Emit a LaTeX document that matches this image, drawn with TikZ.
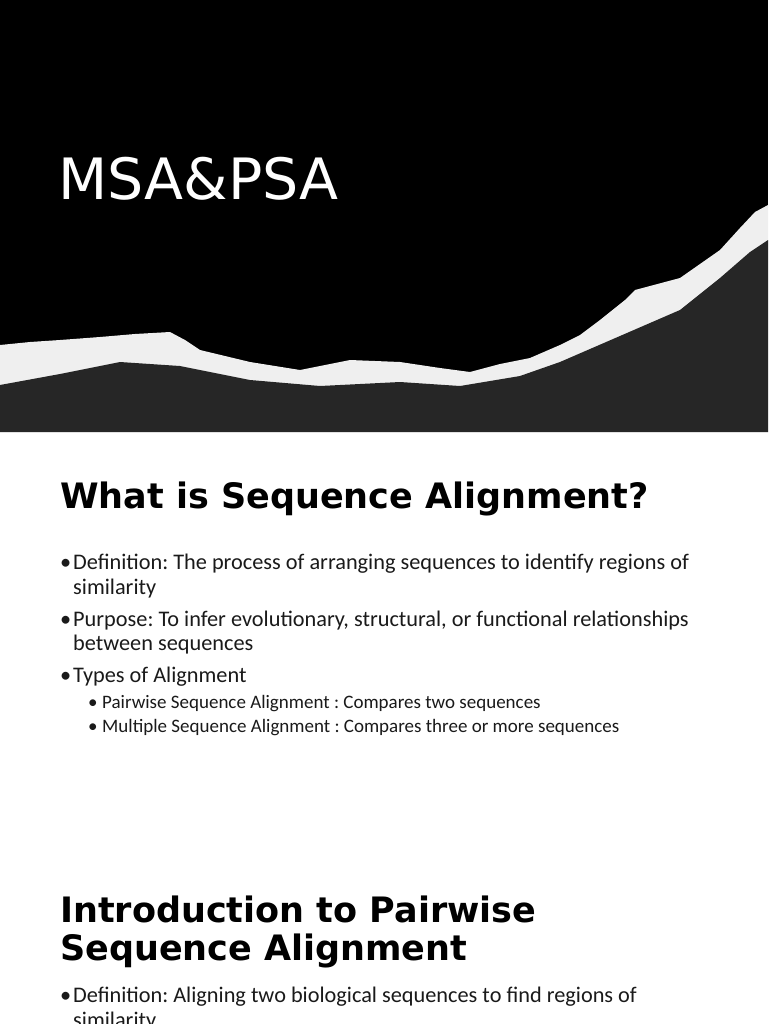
\documentclass[tikz,border=0pt]{standalone}
\usepackage{fontspec}
\setmainfont{Carlito}
\newfontfamily\headfont{DejaVu Sans}
\definecolor{strip}{HTML}{EFEFEF}
\definecolor{darkg}{HTML}{262626}
\definecolor{txt}{HTML}{1A1A1A}
\begin{document}
\frenchspacing
\begin{tikzpicture}[x=1pt,y=-1pt,
  body/.style={anchor=base west,inner sep=0pt,font=\frenchspacing\fontsize{22.3}{24}\selectfont,text=txt},
  sub/.style={anchor=base west,inner sep=0pt,font=\frenchspacing\fontsize{19}{19}\selectfont,text=txt},
  head/.style={anchor=base west,inner sep=0pt,font=\headfont\bfseries\fontsize{35}{38}\selectfont,text=black}]
\useasboundingbox (0,0) rectangle (768,1024);
\fill[white] (0,0) rectangle (768,1024);
% top slide
\fill[black] (0,0) rectangle (768,432);
\fill[strip] (0,345) -- (30,342) -- (60,340) -- (100,337) -- (135,334) -- (170,332) -- (185,340) -- (200,350) -- (250,362) -- (300,370) -- (350,360) -- (400,362) -- (440,368) -- (470,372) -- (500,364) -- (530,358) -- (560,345) -- (580,335) -- (600,320) -- (625,300) -- (635,290) -- (680,278) -- (720,250) -- (740,228) -- (755,212) -- (768,205) -- (768,432) -- (0,432) -- cycle;
\fill[darkg] (0,385) -- (60,374) -- (120,362) -- (180,366) -- (250,380) -- (320,386) -- (400,382) -- (460,386) -- (520,376) -- (560,362) -- (620,336) -- (680,310) -- (720,278) -- (750,252) -- (768,240) -- (768,432) -- (0,432) -- cycle;
\node[anchor=base west,inner sep=0pt,text=white,font=\headfont\fontsize{57}{64}\selectfont] (title) at (58,200) {MSA\&PSA};
% second slide
\node[head] (h1) at (60,508) {What is Sequence Alignment?};
\node[body] (d1) at (60,569) {•};
\node[body] (b1) at (73,569) {Definition: The process of arranging sequences to identify regions of};
\node[body] (b1b) at (73,594) {similarity};
\node[body] (d2) at (60,626) {•};
\node[body] (b2) at (73,626) {Purpose: To infer evolutionary, structural, or functional relationships};
\node[body] (b2b) at (73,650) {between sequences};
\node[body] (d3) at (60,682) {•};
\node[body] (b3) at (73,682) {Types of Alignment};
\node[sub] (e1) at (88,708) {•};
\node[sub] (s1) at (102,708) {Pairwise Sequence Alignment : Compares two sequences};
\node[sub] (e2) at (88,732) {•};
\node[sub] (s2) at (102,732) {Multiple Sequence Alignment : Compares three or more sequences};
% third slide
\node[head] (h2) at (60,922) {Introduction to Pairwise};
\node[head] (h2b) at (60,960) {Sequence Alignment};
\node[body] (d4) at (60,1002) {•};
\node[body] (c1) at (73,1002) {Definition: Aligning two biological sequences to find regions of};
\node[body] (c1b) at (73,1027) {similarity};
\end{tikzpicture}
\end{document}
